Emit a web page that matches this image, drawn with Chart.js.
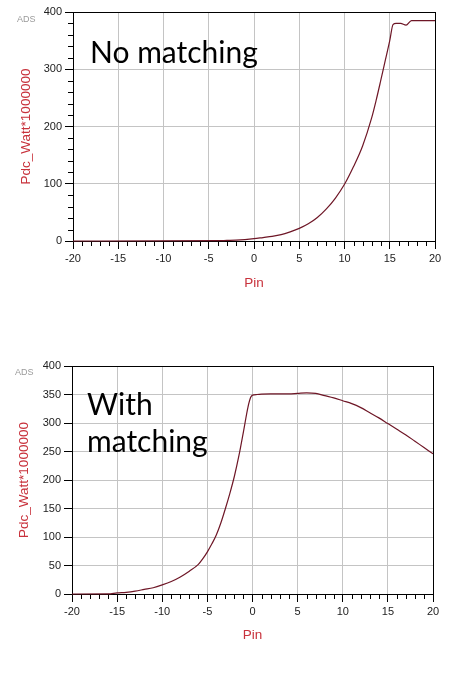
<!DOCTYPE html>
<html>
<head>
<meta charset="utf-8">
<script src="https://cdn.jsdelivr.net/npm/chart.js@4.4.1/dist/chart.umd.min.js"></script>
<style>
  body { margin: 0; background: #fff; width: 461px; height: 692px; position: relative; overflow: hidden; }
  canvas { position: absolute; left: 0; }
  #topChart { top: 0; }
  #bottomChart { top: 354px; }
  .ads { position: absolute; font: 9px "Liberation Sans", Arial, sans-serif; color: #9a9a9a; }
  .big { position: absolute; font: 30px Lato, "Open Sans", sans-serif; color: #000; line-height: 37px; white-space: nowrap; }
</style>
</head>
<body>
<canvas id="topChart" width="461" height="300"></canvas>
<canvas id="bottomChart" width="461" height="300"></canvas>
<div class="ads" style="left:17px; top:14px;">ADS</div>
<div class="ads" style="left:15px; top:367px;">ADS</div>
<div class="big" style="left:90px; top:33px;">No matching</div>
<div class="big" style="left:87px; top:385px;">With<br>matching</div>
<script>
// No matching
const pinTop = [-20, -4, -3, -2, -1, 0, 1, 2, 3, 4, 5, 6, 7, 8, 9, 10, 11, 12, 13, 13.5, 14, 14.5, 15, 15.36, 15.7, 16.2, 16.8, 17.4, 18, 19, 20];
const pdcTop = [0, 0.5, 1, 1.5, 2.5, 4, 6, 8, 11, 16, 22, 30, 41, 56, 75, 99, 130, 166, 215, 246, 280, 315, 350, 378, 380, 380, 377, 385, 385, 385, 385];

// With matching
const pinBottom = [-20, -16, -15, -14, -13, -12, -11, -10, -9, -8, -7, -6, -5.5, -5, -4.5, -4, -3.5, -3, -2.5, -2, -1.5, -1, -0.5, -0.2, 0, 0.5, 1, 2, 3, 4, 5, 6, 7, 8, 9, 10, 11, 12, 13, 14, 15, 16, 17, 18, 19, 20];
const pdcBottom = [0, 0.3, 2, 3, 5, 8, 11, 16, 22, 30, 40, 52, 62, 74, 88, 104, 125, 150, 177, 207, 243, 285, 328, 345, 349, 350, 350.5, 351, 351, 351, 352, 353, 352, 348, 344, 339, 334, 327, 318, 309, 299, 289, 279, 268, 257, 246];

const xTicks = [-20, -15, -10, -5, 0, 5, 10, 15, 20];
const yTicksTop = [0, 100, 200, 300, 400];
const yTicksBottom = [0, 50, 100, 150, 200, 250, 300, 350, 400];

const lineColor = '#6e1626';
const titleColor = '#c8323c';
const gridColor = '#c4c4c4';

// frame + short minor ticks, drawn under the trace
const framePlugin = {
    id: 'frame',
    beforeDatasetsDraw(chart, args, opts) {
        const ctx = chart.ctx;
        const a = chart.chartArea;
        const xs = chart.scales.x;
        const ys = chart.scales.y;
        ctx.save();
        ctx.strokeStyle = '#000';
        ctx.lineWidth = 1;
        ctx.beginPath();
        if (opts.xMinor) {
            for (let v = xs.min; v <= xs.max; v += opts.xMinor) {
                if (v % 5 === 0) continue;
                const px = Math.round(xs.getPixelForValue(v)) + 0.5;
                ctx.moveTo(px, a.bottom);
                ctx.lineTo(px, a.bottom + 5);
            }
        }
        if (opts.yMinor) {
            for (let v = ys.min; v <= ys.max; v += opts.yMinor) {
                if (v % 100 === 0) continue;
                const py = Math.round(ys.getPixelForValue(v)) + 0.5;
                ctx.moveTo(a.left - 5, py);
                ctx.lineTo(a.left, py);
            }
        }
        ctx.stroke();
        ctx.strokeRect(Math.round(a.left) + 0.5, Math.round(a.top) + 0.5,
            Math.round(a.right - a.left), Math.round(a.bottom - a.top));
        ctx.restore();
    }
};

function makeChart(id, pins, pdc, yTicks, cfg) {
    const points = pins.map((p, i) => ({ x: p, y: pdc[i] }));
    return new Chart(document.getElementById(id), {
        type: 'line',
        data: {
            datasets: [{
                data: points,
                borderColor: lineColor,
                borderWidth: 1.2,
                pointRadius: 0,
                cubicInterpolationMode: 'monotone',
                clip: false
            }]
        },
        options: {
            responsive: false,
            animation: false,
            events: [],
            layout: { padding: { top: cfg.top, right: cfg.right, left: 0, bottom: 0 } },
            plugins: {
                legend: { display: false },
                tooltip: { enabled: false },
                frame: { xMinor: 1, yMinor: cfg.yMinor }
            },
            scales: {
                x: {
                    type: 'linear',
                    min: -20,
                    max: 20,
                    afterBuildTicks: s => { s.ticks = xTicks.map(v => ({ value: v })); },
                    afterFit: s => { s.height = cfg.xHeight; },
                    ticks: {
                        color: '#222',
                        padding: 3,
                        maxRotation: 0,
                        font: { family: '"Liberation Sans", Arial, sans-serif', size: 11 }
                    },
                    grid: { color: gridColor, tickColor: '#000', tickLength: 8 },
                    border: { color: '#000' },
                    title: {
                        display: true,
                        text: 'Pin',
                        color: titleColor,
                        font: { family: '"Liberation Sans", Arial, sans-serif', size: 13.5 },
                        padding: { top: 0, bottom: cfg.xTitlePad }
                    }
                },
                y: {
                    type: 'linear',
                    min: 0,
                    max: 400,
                    afterBuildTicks: s => { s.ticks = yTicks.map(v => ({ value: v })); },
                    afterFit: s => { s.width = cfg.yWidth; },
                    ticks: {
                        color: '#222',
                        padding: 3,
                        font: { family: '"Liberation Sans", Arial, sans-serif', size: 11 }
                    },
                    grid: { color: gridColor, tickColor: '#000', tickLength: 8 },
                    border: { color: '#000' },
                    title: {
                        display: true,
                        text: 'Pdc_Watt*1000000',
                        color: titleColor,
                        font: { family: '"Liberation Sans", Arial, sans-serif', size: 13.5 },
                        padding: { top: cfg.yTitlePad, bottom: 0 }
                    }
                }
            }
        },
        plugins: [framePlugin]
    });
}

makeChart('topChart', pinTop, pdcTop, yTicksTop,
    { top: 12, right: 26, xHeight: 59, yWidth: 73, xTitlePad: 9, yTitlePad: 18, yMinor: 20 });
makeChart('bottomChart', pinBottom, pdcBottom, yTicksBottom,
    { top: 12, right: 28, xHeight: 60, yWidth: 72, xTitlePad: 11, yTitlePad: 16, yMinor: 0 });
</script>
</body>
</html>
